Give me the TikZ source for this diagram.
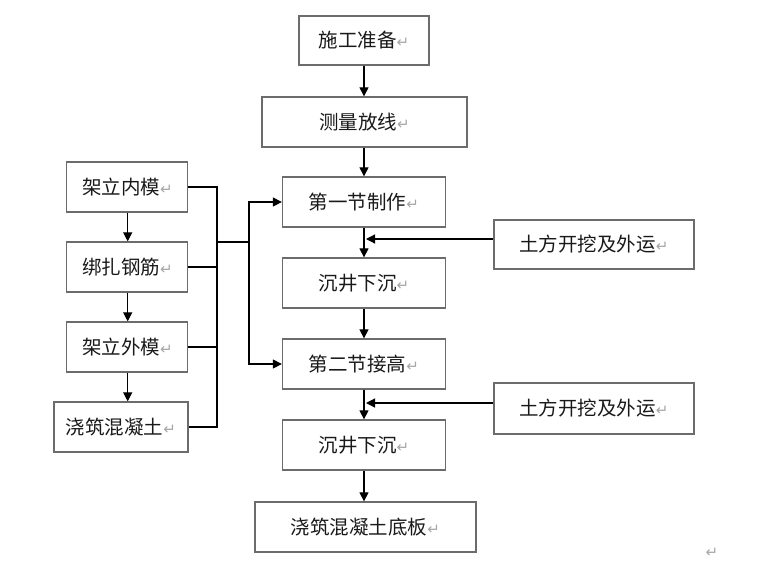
\documentclass[tikz,border=0pt]{standalone}
\usepackage{fontspec}
\usetikzlibrary{arrows.meta}
\newfontfamily\cjk{Noto Sans CJK SC}
\newfontfamily\djv{DejaVu Sans}
\newcommand\retmk{{\djv\fontsize{15}{15}\selectfont\color{gray!70}↵}}
\begin{document}
\begin{tikzpicture}[x=1pt,y=-1pt,
  box/.style={draw=gray!85!black, line width=1.3pt, rectangle, inner sep=0pt,
    minimum height=50pt, font=\cjk\fontsize{19.5}{21}\selectfont, text=black!90},
  conn/.style={line width=1.2pt, black},
  arr/.style={conn, -{Triangle[length=9pt,width=9pt]}}]
\useasboundingbox (0,0) rectangle (760,568);
% main column
\node[box, minimum width=130pt, minimum height=49pt] (b1) at (364,40.5) {施工准备\retmk};
\node[box, minimum width=205pt] (b2) at (364.5,122) {测量放线\retmk};
\node[box, minimum width=163pt] (b3) at (364,202) {第一节制作\retmk};
\node[box, minimum width=163pt] (b4) at (364,283) {沉井下沉\retmk};
\node[box, minimum width=163pt] (b5) at (364,364) {第二节接高\retmk};
\node[box, minimum width=163pt] (b6) at (364,445) {沉井下沉\retmk};
\node[box, minimum width=221pt] (b7) at (365.5,527) {浇筑混凝土底板\retmk};
% right boxes
\node[box, minimum width=200pt, minimum height=49pt] (r1) at (594,244.5) {土方开挖及外运\retmk};
\node[box, minimum width=200pt, minimum height=51pt] (r2) at (594,408.5) {土方开挖及外运\retmk};
% left boxes
\node[box, minimum width=121pt] (l1) at (127.3,187) {架立内模\retmk};
\node[box, minimum width=121pt] (l2) at (127.3,267) {绑扎钢筋\retmk};
\node[box, minimum width=121pt] (l3) at (127.3,347) {架立外模\retmk};
\node[box, minimum width=134pt] (l4) at (121,427) {浇筑混凝土\retmk};
% main arrows (all on the axis x = 364)
\draw[arr] (b1.south) -- (b2.north -| b1.south);
\draw[arr] (b2.south -| b1.south) -- (b3.north);
\draw[arr] (b3.south) -- (b4.north);
\draw[arr] (b4.south) -- (b5.north);
\draw[arr] (b5.south) -- (b6.north);
\draw[arr] (b6.south) -- (b7.north -| b6.south);
% side inputs
\coordinate (j1) at (366,239);
\coordinate (j2) at (366,403);
\draw[arr] (r1.west |- j1) -- (j1);
\draw[arr] (r2.west |- j2) -- (j2);
% left arrows
\draw[arr] (l1.south -| 127.7,0) -- (l2.north -| 127.7,0);
\draw[arr] (l2.south -| 127.7,0) -- (l3.north -| 127.7,0);
\draw[arr] (l3.south -| 127.7,0) -- (l4.north -| 127.7,0);
% bus
\coordinate (bt) at (217,187);
\coordinate (bb) at (217,427);
\coordinate (bj) at (217,242);
\coordinate (sj) at (249,242);
\draw[conn] (l1.east) -- (bt) -- (bb) -- (l4.east);
\draw[conn] (l2.east) -- (l2.east -| bt);
\draw[conn] (l3.east) -- (l3.east -| bt);
\draw[conn] (bj) -- (sj);
\draw[arr] (sj) |- (b3.west);
\draw[arr] (sj) |- (b5.west);
% stray paragraph mark
\node[inner sep=0pt] (pm) at (712,553) {\retmk};
\end{tikzpicture}
\end{document}
